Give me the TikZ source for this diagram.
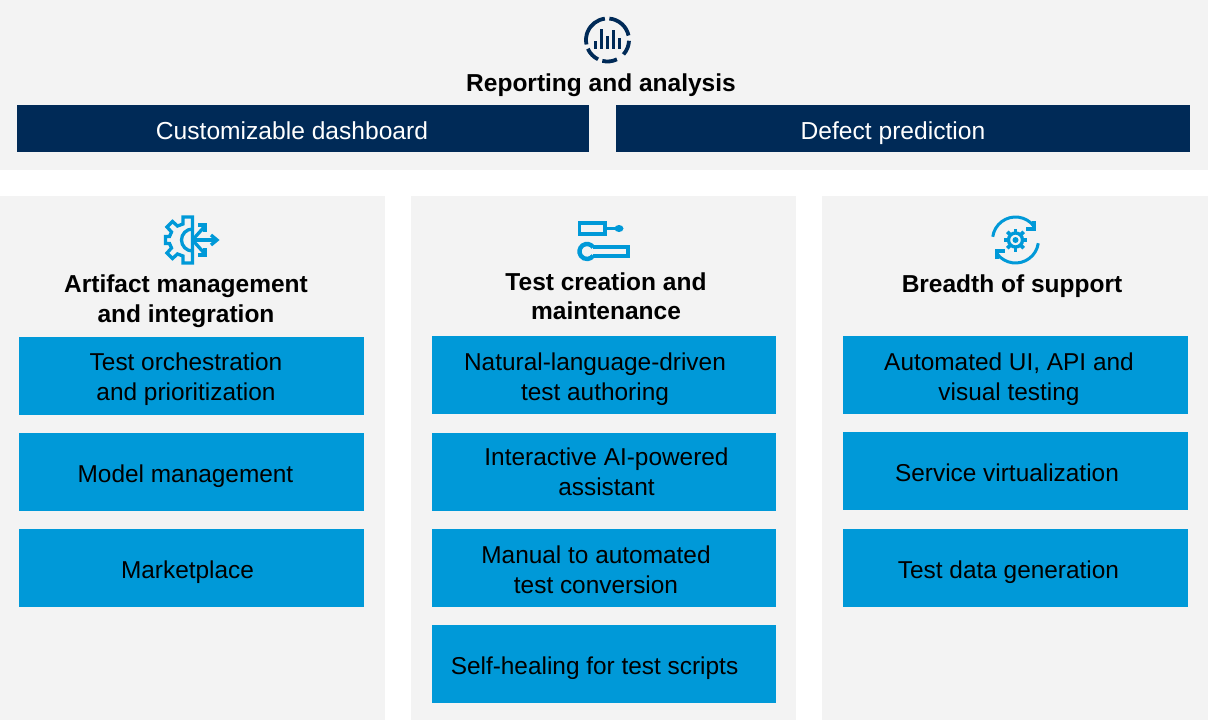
\documentclass[tikz,border=0pt]{standalone}
\usepackage{fontspec}
\setmainfont{Liberation Sans}
\usetikzlibrary{arrows,shapes,calc}
\definecolor{panelgray}{HTML}{F3F3F3}
\definecolor{navybar}{HTML}{002A57}
\definecolor{bluebox}{HTML}{0099D8}
\tikzset{panel/.style={fill=panelgray,draw=none,inner sep=0pt,anchor=north west},
    navy/.style={fill=navybar,draw=none,inner sep=0pt,minimum height=47pt,minimum width=572pt},
    box/.style={fill=bluebox,draw=none,inner sep=0pt,minimum height=78pt,minimum width=345pt},
    head/.style={font=\fontsize{24.5}{29.5}\selectfont\bfseries,align=center,text=black},
    lab/.style={font=\fontsize{24.4}{30}\selectfont,align=center,text=black},
    bar/.style={text=white,font=\fontsize{24.6}{29}\selectfont},
    icon/.style={draw=bluebox,line width=3.3pt,fill=none},
    darkicon/.style={draw=navybar,line width=3.8pt,fill=none}}

\begin{document}
\begin{tikzpicture}[x=1pt,y=1pt]
  \useasboundingbox (0,0) rectangle (1208,-720);
  % panels
  \node[panel,minimum width=1208pt,minimum height=170pt] (top) at (0,0) {};
  \node[panel,minimum width=385pt,minimum height=524pt] (left) at (0,-196) {};
  \node[panel,minimum width=385pt,minimum height=524pt] (mid) at (411,-196) {};
  \node[panel,minimum width=386pt,minimum height=524pt] (right) at (822,-196) {};
  % reporting icon
  \coordinate (c0) at (607.5,-40);
  \foreach \a/\b in {97/192, 204/244, 256/296, 318/358, 12/85}
    \draw[darkicon] ($(c0)+(\a:21.5)$) arc (\a:\b:21.5);
  \foreach \x/\t in {-12/-1,-6/11,0/4,6/10,12/2}
    \fill[navybar] ($(c0)+(\x-1.6,-9)$) rectangle ($(c0)+(\x+1.6,\t)$);
  \node[head] (reporting) at (601,-85) {Reporting and analysis};
  \node[navy] (dash) at (303,-128.5) {};
  \node[navy,minimum width=574pt] (defect) at (903,-128.5) {};
  \node[bar] (dashtxt) at (292,-131) {Customizable dashboard};
  \node[bar] (defecttxt) at (893,-133) {Defect prediction};
  % gear and arrows icon
  \coordinate (c1) at (192.5,-240);
  \draw[icon] (192.5,-217) -- (183,-217) -- (183,-224) -- (177.5,-226) -- (172.5,-221.5) -- (167,-227) -- (171.5,-232) -- (169.5,-236.5) -- (165.5,-236.5) -- (165.5,-243.5) -- (169.5,-243.5) -- (171.5,-248) -- (167,-253) -- (172.5,-258.5) -- (177.5,-254) -- (183,-256) -- (183,-263) -- (192.5,-263) -- cycle;
  \draw[icon] (192.5,-229) arc (90:270:11);
  \draw[icon] (c1) -- (216,-240);
  \draw[icon] (c1) -- (205,-226);
  \draw[icon] (c1) -- (205,-254);
  \draw[icon] (211,-235) -- (217,-240) -- (211,-245);
  \draw[icon] (198,-225) -- (205,-225) -- (205,-232);
  \draw[icon] (198,-255) -- (205,-255) -- (205,-248);
  \node[head] (artifact) at (186,-301) {Artifact management\\and integration};
  % tools icon
  \draw[icon] (579.5,-223) rectangle (605,-234);
  \draw[icon] (605,-228.5) -- (620,-228.5);
  \fill[bluebox] (619,-228.5) ellipse (4.5 and 3.5);
  \draw[icon] (593,-247) -- (628,-247) -- (628,-256) -- (593,-256);
  \draw[icon,line width=4.4pt] ($(587,-251.5)+(35:7.5)$) arc (35:325:7.5);
  \node[head] (creation) at (606,-296) {Test creation and\\maintenance};
  % gear and cycle icon
  \coordinate (c2) at (1015.5,-240);
  \draw[icon,line width=3pt] ($(c2)+(172:23)$) arc (172:38:23);
  \draw[icon,line width=3pt] ($(c2)+(-8:23)$) arc (-8:-142:23);
  \draw[icon] (1034,-221) -- (1034,-229) -- (1026,-229);
  \draw[icon] (997,-259) -- (997,-251) -- (1005,-251);
  \foreach \a in {0,45,...,315}
    \draw[bluebox,line width=3.6pt] ($(c2)+(\a:8)$) -- ($(c2)+(\a:11.5)$);
  \draw[icon] (c2) circle (7);
  \fill[bluebox] (c2) circle (3);
  \node[head] (breadth) at (1012,-286) {Breadth of support};
  % left column
  \node[box] (orch) at (191.5,-375.5) {};
  \node[box] (model) at (191.5,-471.5) {};
  \node[box] (market) at (191.5,-567.5) {};
  \node[lab] (orchtxt) at (186,-379.5) {Test orchestration\\and prioritization};
  \node[lab] (modeltxt) at (185.5,-476) {Model management};
  \node[lab] (markettxt) at (187.5,-572) {Marketplace};
  % middle column
  \node[box,minimum width=344pt] (nat) at (603.5,-375) {};
  \node[box,minimum width=344pt] (assist) at (603.5,-471.5) {};
  \node[box,minimum width=344pt] (manual) at (603.5,-567.5) {};
  \node[box,minimum width=344pt] (heal) at (603.5,-663.5) {};
  \node[lab] (nattxt) at (595,-379.5) {Natural-language-driven\\test authoring};
  \node[lab] (assisttxt) at (606.5,-471.5) {Interactive AI-powered\\assistant};
  \node[lab] (manualtxt) at (596,-570) {Manual to automated\\test conversion};
  \node[lab] (healtxt) at (594.5,-668) {Self-healing for test scripts};
  % right column
  \node[box] (auto) at (1015.5,-375) {};
  \node[box] (virt) at (1015.5,-471) {};
  \node[box] (data) at (1015.5,-567.5) {};
  \node[lab] (autotxt) at (1009,-379.5) {Automated UI, API and\\visual testing};
  \node[lab] (virttxt) at (1007,-473) {Service virtualization};
  \node[lab] (datatxt) at (1008.5,-572) {Test data generation};
\end{tikzpicture}
\end{document}
